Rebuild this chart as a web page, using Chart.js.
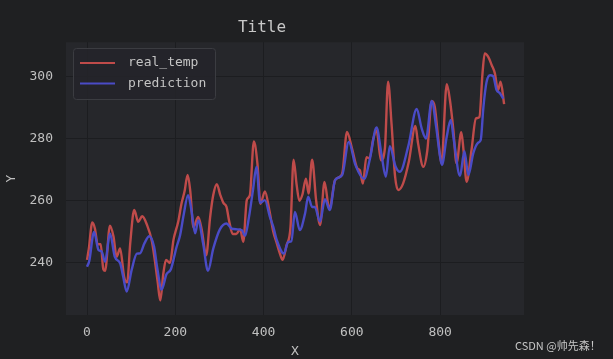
<!DOCTYPE html>
<html>
<head>
<meta charset="utf-8">
<script src="https://cdn.jsdelivr.net/npm/chart.js@4/dist/chart.umd.min.js"></script>
<style>
    html, body { margin: 0; padding: 0; background: #1f2022; }
    #chart { display: block; }
</style>
</head>
<body>
<canvas id="chart" width="613" height="359"></canvas>
<script>
// values
var realX = [0, 4, 12, 18, 24, 31, 37, 41, 52, 60, 67, 75, 84, 91, 98, 107, 116, 125, 136, 147,
    154, 160, 166, 173, 179, 188, 196, 207, 214, 221, 228, 234, 241, 252, 260, 270, 279, 286, 294, 302,
    309, 316, 322, 330, 338, 347, 354, 362, 369, 378, 386, 393, 403, 413, 422, 430, 437, 443, 452, 461,
    468, 475, 481, 488, 496, 502, 510, 519, 528, 538, 549, 562, 573, 579, 589, 600, 612, 618, 625, 633,
    640, 648, 656, 666, 675, 682, 690, 698, 705, 716, 729, 744, 750, 762, 771, 781, 788, 796, 803, 815,
    822, 830, 837, 848, 853, 860, 871, 881, 889, 896, 901, 909, 917, 924, 931, 937, 945];
var realTemp = [241, 244.5, 253, 251, 246, 246, 238, 237.5, 252, 248.5, 242, 244.7, 235.6, 233.8, 246.5, 257, 253.2, 255, 252.2, 247,
    240.5, 234, 228, 236.7, 241, 240, 247.5, 253.5, 259, 263, 268.3, 263, 251.5, 254.8, 250.6, 242.5, 254.8, 261.8, 265.3, 261.8,
    259.3, 258, 253.5, 249.3, 249.3, 250.8, 246.8, 260.2, 261.8, 279, 272, 259, 263, 257, 250, 246.3, 243, 241, 245.7, 251.5,
    273.2, 265, 260, 262, 267.1, 262.3, 273.2, 260.2, 252.2, 266, 257.3, 266.6, 267.7, 269.3, 282.1, 277, 270.5, 269.8, 265.5, 274,
    273.6, 279.5, 282.6, 273, 277, 298.2, 284.5, 267.7, 263.4, 265.5, 272.5, 284, 278.4, 270.9, 276.2, 292, 290, 279.5, 272, 297.4,
    292.5, 282.7, 272, 282, 276.2, 266.1, 276.2, 286.4, 286.9, 300.9, 307.3, 306.2, 303.5, 300.9, 295.5, 298.2, 291];

var predX = [0, 5, 16, 26, 33, 41, 52, 63, 75, 82, 90, 101, 113, 120, 130, 141, 152, 159, 169, 180,
    190, 203, 211, 219, 229, 237, 245, 252, 263, 274, 286, 301, 316, 328, 340, 351, 358, 367, 376, 384,
    392, 403, 414, 422, 430, 446, 456, 463, 471, 482, 494, 501, 510, 516, 528, 539, 550, 562, 578, 593,
    608, 628, 641, 656, 667, 677, 686, 699, 709, 728, 747, 758, 768, 781, 791, 800, 804, 815, 824, 831,
    845, 855, 864, 875, 886, 892, 898, 905, 913, 920, 928, 935, 943];
var prediction = [238.8, 240.6, 250, 244.2, 243.7, 240.4, 249.5, 242, 239.9, 235.6, 230.8, 237.7, 243, 243.1, 246.3, 248.6, 245.2, 238.5, 231.5, 236.4,
    238, 245.2, 249, 255.5, 261.8, 256.5, 249.5, 253.7, 246.3, 237.5, 244.6, 250.8, 252.7, 251, 250.8, 250.5, 248.7, 254.8, 263.4, 270.9,
    259.3, 260.2, 255, 251.6, 247.3, 243, 246.8, 247, 256.4, 250.6, 255.9, 261.3, 258, 258, 253.3, 260.5, 257, 266.6, 268.2, 278.9,
    271.5, 267, 273.5, 283.5, 275, 267.7, 277.5, 271, 269.3, 277.6, 289.5, 283.3, 280, 292, 283.7, 274, 271.5, 280.6, 285.9, 279.5,
    268, 275.9, 268.2, 275.2, 278.6, 279.5, 290, 298, 300.3, 300, 295.5, 294.6, 292.8];

var xTicks = [0, 200, 400, 600, 800];
var yTicks = [240, 260, 280, 300];
var seriesNames = ['real_temp', 'prediction'];

var MONO = '"DejaVu Sans Mono", "Liberation Mono", monospace';
var TEXT = '#c0c0c0';

function toPoints(xs, ys) {
    return xs.map(function (x, i) { return { x: x, y: ys[i] }; });
}

// dark figure + lighter axes face
var backgroundPlugin = {
    id: 'bg',
    beforeDraw: function (chart) {
        var ctx = chart.ctx;
        var a = chart.chartArea;
        ctx.save();
        ctx.fillStyle = '#1f2022';
        ctx.fillRect(0, 0, chart.width, chart.height);
        ctx.fillStyle = '#26272b';
        ctx.fillRect(a.left, a.top, a.right - a.left, a.bottom - a.top);
        ctx.restore();
    }
};

// legend box inside the plot, upper left, plus the watermark
var legendPlugin = {
    id: 'innerLegend',
    afterDraw: function (chart) {
        var ctx = chart.ctx;
        ctx.save();
        ctx.beginPath();
        if (ctx.roundRect) ctx.roundRect(73.5, 48.5, 142, 51, 3);
        else ctx.rect(73.5, 48.5, 142, 51);
        ctx.fillStyle = 'rgba(36, 37, 42, 0.85)';
        ctx.fill();
        ctx.strokeStyle = '#3b3c41';
        ctx.lineWidth = 1;
        ctx.stroke();

        chart.data.datasets.forEach(function (ds, i) {
            var y = 63 + i * 20.5;
            ctx.beginPath();
            ctx.moveTo(80, y);
            ctx.lineTo(115, y);
            ctx.strokeStyle = ds.borderColor;
            ctx.lineWidth = 2;
            ctx.stroke();
            ctx.fillStyle = '#c4c4c4';
            ctx.font = '13px ' + MONO;
            ctx.textBaseline = 'middle';
            ctx.textAlign = 'left';
            ctx.fillText(ds.label, 128, y);
        });

        ctx.font = '11px "Noto Sans CJK SC", "Noto Sans", sans-serif';
        ctx.fillStyle = '#c8c8c8';
        ctx.textAlign = 'left';
        ctx.textBaseline = 'middle';
        ctx.fillText('CSDN @帅先森！', 515, 346);
        ctx.restore();
    }
};

var chart = new Chart(document.getElementById('chart'), {
    type: 'line',
    data: {
        datasets: [
            {
                label: seriesNames[0],
                data: toPoints(realX, realTemp),
                borderColor: '#bf4b4a',
                borderWidth: 2.4,
                pointRadius: 0,
                cubicInterpolationMode: 'monotone',
                borderJoinStyle: 'round',
                order: 1
            },
            {
                label: seriesNames[1],
                data: toPoints(predX, prediction),
                borderColor: '#4a4bc6',
                borderWidth: 2.4,
                pointRadius: 0,
                cubicInterpolationMode: 'monotone',
                borderJoinStyle: 'round',
                order: 0
            }
        ]
    },
    options: {
        responsive: false,
        devicePixelRatio: 1,
        animation: false,
        layout: { padding: { left: 0, right: 89, top: 0, bottom: 0 } },
        plugins: {
            legend: { display: false },
            tooltip: { enabled: false },
            title: {
                display: true,
                text: 'Title',
                color: '#c8c8c8',
                font: { family: MONO, size: 16, weight: 'normal' },
                padding: { top: 18, bottom: 5 }
            }
        },
        scales: {
            x: {
                type: 'linear',
                min: -47.6,
                max: 990,
                afterFit: function (s) { s.height = 44; },
                afterBuildTicks: function (s) {
                    s.ticks = xTicks.map(function (v) { return { value: v }; });
                },
                grid: { color: '#1c1d20', lineWidth: 1, drawTicks: false },
                border: { display: false },
                ticks: {
                    color: TEXT,
                    padding: 10,
                    maxRotation: 0,
                    font: { family: MONO, size: 13 }
                },
                title: {
                    display: true,
                    text: 'X',
                    color: TEXT,
                    font: { family: MONO, size: 13 },
                    padding: { top: 0, bottom: 0 }
                }
            },
            y: {
                type: 'linear',
                min: 223.3,
                max: 310.9,
                afterFit: function (s) { s.width = 66; },
                afterBuildTicks: function (s) {
                    s.ticks = yTicks.map(function (v) { return { value: v }; });
                },
                grid: { color: '#1c1d20', lineWidth: 1, drawTicks: false },
                border: { display: false },
                ticks: {
                    color: TEXT,
                    padding: 13,
                    font: { family: MONO, size: 13 }
                },
                title: {
                    display: true,
                    text: 'Y',
                    color: TEXT,
                    font: { family: MONO, size: 13 },
                    padding: { top: 4, bottom: 0 }
                }
            }
        }
    },
    plugins: [backgroundPlugin, legendPlugin]
});
</script>
</body>
</html>
